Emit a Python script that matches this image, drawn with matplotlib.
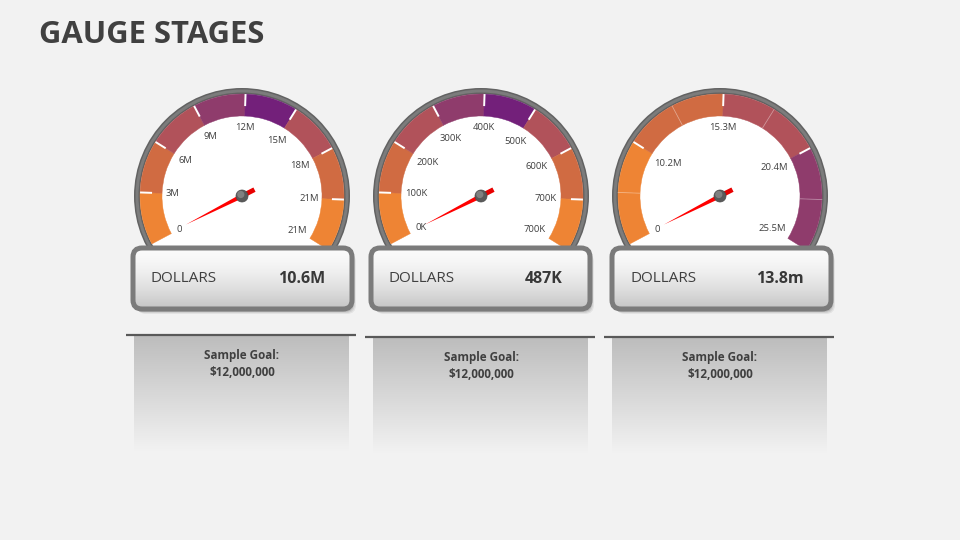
import numpy as np
import matplotlib
matplotlib.use("Agg")
import matplotlib.pyplot as plt
from matplotlib.patches import Wedge, Circle, FancyBboxPatch, Polygon
from matplotlib.textpath import TextPath
from matplotlib.font_manager import FontProperties

# ---- data ----
title = "GAUGE STAGES"
gauge_labels = [
    ["0", "3M", "6M", "9M", "12M", "15M", "18M", "21M", "21M"],
    ["0K", "100K", "200K", "300K", "400K", "500K", "600K", "700K", "700K"],
    ["0", "", "10.2M", "", "15.3M", "", "20.4M", "", "25.5M"],
]
ORANGE, COPPER, ROSE, PLUM, PURPLE = "#ee8434", "#d06b42", "#b1525a", "#8f3c6c", "#73207a"
gauge_colors = [
    [ORANGE, COPPER, ROSE, PLUM, PURPLE, ROSE, COPPER, ORANGE],
    [ORANGE, COPPER, ROSE, PLUM, PURPLE, ROSE, COPPER, ORANGE],
    [ORANGE, ORANGE, COPPER, COPPER, ROSE, ROSE, PLUM, PLUM],
]
needle_frac = [0.0, 0.0, 0.0]   # needle drawn at the start of the scale
display_label = "DOLLARS"
display_values = ["10.6M", "487K", "13.8m"]
goal_title = "Sample Goal:"
goal_values = ["$12,000,000", "$12,000,000", "$12,000,000"]

# ---- layout ----
centers_x = [242, 481, 720]
center_y = 196
box_x = [133, 371, 612]
box_y = [248, 248, 248]
panel_line_y = [335, 337, 337]
start_ang, span = 208.0, 240.0
R_ring, R_band, R_in = 108, 102, 80
BG = "#f2f2f2"
TXT = "#404040"
FONT = "Open Sans"

fig = plt.figure(figsize=(9.6, 5.4), dpi=100, facecolor=BG)
ax = fig.add_axes([0, 0, 1, 1])
ax.set_facecolor(BG)


def gradient(ax, x0, x1, y0, y1, c_top, c_bot, clip=None, z=1, power=1.0):
    t = np.linspace(0, 1, 256) ** power
    a = np.array(matplotlib.colors.to_rgb(c_top))
    b = np.array(matplotlib.colors.to_rgb(c_bot))
    img = (a[None, :] * (1 - t[:, None]) + b[None, :] * t[:, None])[:, None, :]
    im = ax.imshow(img, extent=(x0, x1, y1, y0), aspect="auto", zorder=z,
                   interpolation="bilinear")
    if clip is not None:
        im.set_clip_path(clip)
    return im


label_fp = FontProperties(family=FONT, size=6.8)

for g in range(3):
    cx, cy = centers_x[g], center_y
    cols = gauge_colors[g]
    labs = gauge_labels[g]
    n = len(cols)
    step = span / n
    # ring + face
    ax.add_patch(Circle((cx, cy), R_ring, fc="#626262", ec="none", zorder=2))
    ax.add_patch(Wedge((cx, cy), R_ring - 1.5, 0, 360, width=3, fc="#7c7c7c", ec="none", zorder=2))
    ax.add_patch(Circle((cx, cy), R_band, fc="white", ec="none", zorder=3))
    # coloured band (y axis is inverted, so visual angles are negated)
    for i, c in enumerate(cols):
        a1 = start_ang - i * step
        a0 = a1 - step
        ax.add_patch(Wedge((cx, cy), R_band, -a1, -a0, width=R_band - R_in,
                           fc=c, ec=c, lw=0.3, zorder=4))
    # tick marks and labels
    for i, lab in enumerate(labs):
        ang = np.radians(start_ang - i * step)
        ca, sa = np.cos(ang), -np.sin(ang)
        if 0 < i < n:
            if lab:
                ax.plot([cx + 90 * ca, cx + R_band * ca], [cy + 90 * sa, cy + R_band * sa],
                        color="white", lw=1.4, zorder=5, solid_capstyle="butt")
            else:
                ax.plot([cx + R_in * ca, cx + R_band * ca], [cy + R_in * sa, cy + R_band * sa],
                        color="white", lw=0.6, alpha=0.35, zorder=5)
        if lab:
            ext = TextPath((0, 0), lab, prop=label_fp).get_extents()
            hw = ext.width * 100 / 72 / 2
            hh = 7
            r = 76 - (hw * abs(ca) + hh * abs(sa))
            ax.text(cx + r * ca, cy + r * sa, lab, fontproperties=label_fp,
                    color=TXT, ha="center", va="center", zorder=6)
    # needle
    na = np.radians(start_ang - needle_frac[g] * span - 1.0)
    d = np.array([np.cos(na), -np.sin(na)])
    p = np.array([-d[1], d[0]])
    c0 = np.array([cx, cy])
    tip = c0 + 63 * d
    ax.add_patch(Polygon([tip, c0 + 2.2 * p, c0 - 2.2 * p], closed=True,
                         fc="#ff0000", ec="none", zorder=7))
    ax.add_patch(Polygon([c0 + 2.4 * p, c0 - 14 * d + 2.4 * p, c0 - 14 * d - 2.4 * p, c0 - 2.4 * p],
                         closed=True, fc="#e80000", ec="none", zorder=7))
    ax.add_patch(Circle((cx, cy), 6, fc="#5a5a5a", ec="#4a4a4a", lw=0.5, zorder=8))
    ax.add_patch(Circle((cx - 1.2, cy - 1.5), 3.6, fc="#8a8a8a", ec="none", zorder=8, alpha=0.8))

    # display box
    bx, by, bw, bh = box_x[g], box_y[g], 219, 61
    for k, al in enumerate([0.10, 0.08, 0.06]):
        ax.add_patch(FancyBboxPatch((bx + 2 + k, by + 3 + k), bw, bh,
                                    boxstyle="round,pad=0,rounding_size=9",
                                    fc="#000000", ec="none", alpha=al, zorder=9))
    clipbox = FancyBboxPatch((bx, by), bw, bh, boxstyle="round,pad=0,rounding_size=9",
                             fc="white", ec="none", zorder=10)
    ax.add_patch(clipbox)
    gradient(ax, bx, bx + bw, by, by + bh, "#fbfbfb", "#c4c4c4", clip=clipbox, z=10, power=1.6)
    ax.add_patch(FancyBboxPatch((bx, by), bw, bh, boxstyle="round,pad=0,rounding_size=9",
                                fc="none", ec="#7b7b7b", lw=3.6, zorder=11))
    ax.text(bx + 18, by + bh / 2 + 0.5, display_label, family=FONT, fontsize=11,
            color=TXT, ha="left", va="center", zorder=12)
    ax.text(bx + 192, by + bh / 2 + 0.5, display_values[g], family=FONT, fontsize=11.5,
            weight="bold", color="#383838", ha="right", va="center", zorder=12)

    # goal panel
    ly = panel_line_y[g]
    ax.plot([cx - 116, cx + 114], [ly, ly], color="#595959", lw=1.6, zorder=5,
            solid_capstyle="butt")
    gradient(ax, cx - 108, cx + 107, ly + 1, ly + 116, "#bdbdbd", BG, z=4, power=1.0)
    ax.text(cx, ly + 21, goal_title, family=FONT, fontsize=8.4, weight="bold",
            color=TXT, ha="center", va="center", zorder=6)
    ax.text(cx, ly + 38, goal_values[g], family=FONT, fontsize=8.4, weight="bold",
            color=TXT, ha="center", va="center", zorder=6)

ax.text(39, 35, title, family=FONT, fontsize=22.3, weight="bold", color=TXT,
        ha="left", va="center", zorder=12)

ax.set_xlim(0, 960)
ax.set_ylim(540, 0)
ax.axis("off")
fig.savefig("out.png", dpi=100, facecolor=BG)
